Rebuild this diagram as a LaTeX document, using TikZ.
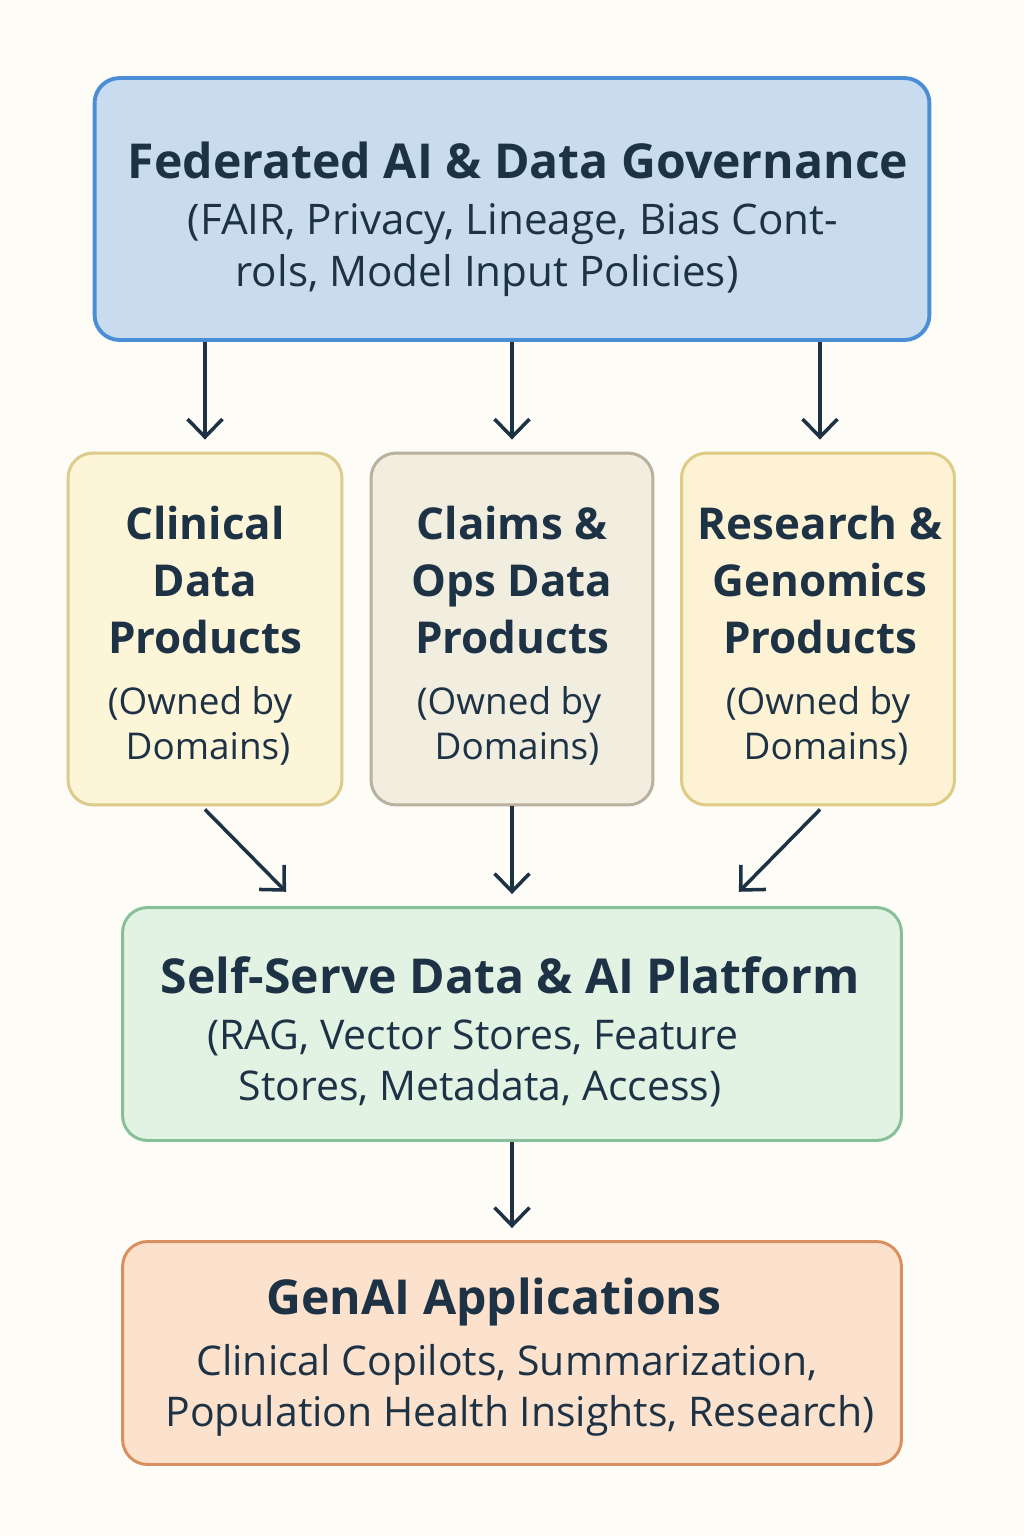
\documentclass[tikz,border=0pt]{standalone}
\usepackage{fontspec}
\setmainfont{Open Sans}
\usetikzlibrary{arrows.meta,calc}

\definecolor{pagebg}{HTML}{FDFCF7}
\definecolor{ink}{HTML}{1E3246}
\definecolor{govfill}{HTML}{C9DBEF}
\definecolor{govline}{HTML}{4A8ED6}
\definecolor{clinfill}{HTML}{FDF5D8}
\definecolor{clinline}{HTML}{DCCB8C}
\definecolor{opsfill}{HTML}{F1EEDF}
\definecolor{opsline}{HTML}{B7B19D}
\definecolor{resfill}{HTML}{FDF2D4}
\definecolor{resline}{HTML}{DECB86}
\definecolor{platfill}{HTML}{E3F3E3}
\definecolor{platline}{HTML}{88BF99}
\definecolor{appfill}{HTML}{FCE2CC}
\definecolor{appline}{HTML}{D98F60}

\newcommand\bighead{\fontsize{27.4}{32}\bfseries\selectfont}
\newcommand\bigsub{\fontsize{24}{29.5}\selectfont}
\newcommand\lowsub{\fontsize{23.3}{29}\selectfont}
\newcommand\colhead{\fontsize{25}{32.3}\bfseries\selectfont}
\newcommand\colsub{\fontsize{21}{25.5}\selectfont}

\tikzset{
  panel/.style={draw, rounded corners=0.5cm, line width=1.7pt, inner sep=0pt},
  txt/.style={text=ink, inner sep=0pt, align=center},
  flow/.style={draw=ink, line width=2pt, -{Straight Barb[length=0.36cm,width=0.7cm,line width=2pt]}, shorten >=0.24cm}
}

\begin{document}
\begin{tikzpicture}[x=0.02cm,y=-0.02cm]
\useasboundingbox[fill=pagebg] (0,0) rectangle (1024,1536);

% governance layer
\node[panel, fill=govfill, draw=govline, line width=2.2pt, minimum width=16.7cm, minimum height=5.24cm] (gov) at (512,209) {};
\node[txt, font=\bighead] (govhead) at (518,160) {Federated AI \& Data Governance};
\node[txt, font=\bigsub] (govsub) at (513,250) {(FAIR, Privacy, Lineage, Bias Cont-\\\hspace*{-1.04cm}rols, Model Input Policies)};

% domain data products
\node[panel, fill=clinfill, draw=clinline, minimum width=5.48cm, minimum height=7.04cm] (clin) at (205,629) {};
\node[panel, fill=opsfill, draw=opsline, minimum width=5.64cm, minimum height=7.04cm] (ops) at (512,629) {};
\node[panel, fill=resfill, draw=resline, minimum width=5.46cm, minimum height=7.04cm] (res) at (818,629) {};

\node[txt, font=\colhead] (clinhead) at (205,580) {Clinical\\Data\\Products};
\node[txt, font=\colsub] (clinsub) at (200,726) {(Owned by\\\hspace*{0.32cm}Domains)};
\node[txt, font=\colhead] (opshead) at (512,580) {Claims \&\\Ops Data\\Products};
\node[txt, font=\colsub] (opssub) at (509,726) {(Owned by\\\hspace*{0.32cm}Domains)};
\node[txt, font=\colhead] (reshead) at (820,580) {Research \&\\Genomics\\Products};
\node[txt, font=\colsub] (ressub) at (818,726) {(Owned by\\\hspace*{0.32cm}Domains)};

% platform
\node[panel, fill=platfill, draw=platline, minimum width=15.58cm, minimum height=4.66cm] (plat) at (512,1024) {};
\node[txt, font=\bighead] (plathead) at (510,975) {Self-Serve Data \& AI Platform};
\node[txt, font=\lowsub] (platsub) at (473,1063) {(RAG, Vector Stores, Feature\\\hspace*{0.28cm}Stores, Metadata, Access)};

% applications
\node[panel, fill=appfill, draw=appline, minimum width=15.58cm, minimum height=4.46cm] (app) at (512,1353) {};
\node[txt, font=\bighead] (apphead) at (494,1302) {GenAI Applications};
\node[txt, font=\lowsub] (appsub) at (520,1390) {\hspace*{-0.52cm}Clinical Copilots, Summarization,\\Population Health Insights, Research)};

% connectors
\draw[flow] (gov.south -| clin.north) -- (clin.north);
\draw[flow] (gov.south) -- (ops.north);
\draw[flow] (gov.south -| 820,0) -- (res.north -| 820,0);
\draw[flow, shorten >=0.4cm] ($(clin.south)+(0,3)$) -- ($(plat.north west)+(179,0)$);
\draw[flow] (ops.south) -- (plat.north);
\draw[flow, shorten >=0.4cm] ($(res.south)+(2,3)$) -- ($(plat.north east)+(-178,0)$);
\draw[flow] (plat.south) -- (app.north);
\end{tikzpicture}
\end{document}
